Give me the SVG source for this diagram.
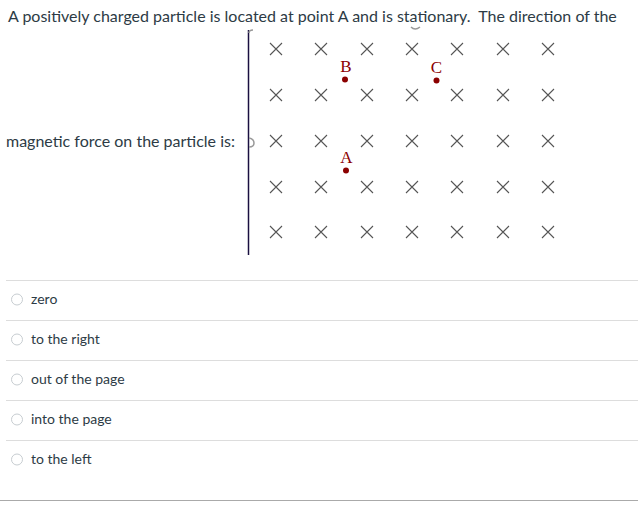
<svg xmlns="http://www.w3.org/2000/svg" width="638" height="506" viewBox="0 0 638 506">
<defs>
<style>
.t{font-family:Lato,"Open Sans",sans-serif;fill:#2d3b45;white-space:pre}
.q{font-size:16px}
.o{font-size:14px}
.x{stroke:#555;stroke-width:1.1;fill:none}
.lbl{font-family:"Liberation Serif","DejaVu Serif",serif;font-size:17px;fill:#8b0000;text-anchor:middle}
.dot{fill:#8b0000}
.sep{stroke:#ddd;stroke-width:1}
.rb{fill:#fff;stroke:#c7cdd1;stroke-width:1}
.art{stroke:#999;stroke-width:1.5;fill:none}
</style>
<path id="cx" d="M-6,-6L6,6M-6,6L6,-6"/>
</defs>
<rect width="638" height="506" fill="#fff"/>
<text class="t q" x="8" y="22" xml:space="preserve">A positively charged particle is located at point A and is stationary.  The direction of the</text>
<text class="t q" x="6" y="147">magnetic force on the particle is:</text>
<g id="figure">
<line x1="248.5" y1="30" x2="248.5" y2="255" stroke="#1a1040" stroke-width="1.5"/>
<path class="art" d="M249,33Q249,30 253,30"/>
<path class="art" d="M411,27Q415,31 420,27"/>
<path class="art" d="M249,138Q254,139 254,143Q254,147 249,147"/>
<g id="field">
<use href="#cx" class="x" x="276" y="49"/><use href="#cx" class="x" x="321" y="49"/><use href="#cx" class="x" x="367" y="49"/><use href="#cx" class="x" x="412" y="49"/><use href="#cx" class="x" x="457" y="49"/><use href="#cx" class="x" x="503" y="49"/><use href="#cx" class="x" x="548" y="49"/>
<use href="#cx" class="x" x="276" y="95"/><use href="#cx" class="x" x="321" y="95"/><use href="#cx" class="x" x="367" y="95"/><use href="#cx" class="x" x="412" y="95"/><use href="#cx" class="x" x="457" y="95"/><use href="#cx" class="x" x="503" y="95"/><use href="#cx" class="x" x="548" y="95"/>
<use href="#cx" class="x" x="276" y="141"/><use href="#cx" class="x" x="321" y="141"/><use href="#cx" class="x" x="367" y="141"/><use href="#cx" class="x" x="412" y="141"/><use href="#cx" class="x" x="457" y="141"/><use href="#cx" class="x" x="503" y="141"/><use href="#cx" class="x" x="548" y="141"/>
<use href="#cx" class="x" x="276" y="187"/><use href="#cx" class="x" x="321" y="187"/><use href="#cx" class="x" x="367" y="187"/><use href="#cx" class="x" x="412" y="187"/><use href="#cx" class="x" x="457" y="187"/><use href="#cx" class="x" x="503" y="187"/><use href="#cx" class="x" x="548" y="187"/>
<use href="#cx" class="x" x="276" y="232"/><use href="#cx" class="x" x="321" y="232"/><use href="#cx" class="x" x="367" y="232"/><use href="#cx" class="x" x="412" y="232"/><use href="#cx" class="x" x="457" y="232"/><use href="#cx" class="x" x="503" y="232"/><use href="#cx" class="x" x="548" y="232"/>
</g>
<g id="pointB"><text class="lbl" x="346" y="72">B</text><circle class="dot" cx="345" cy="79.5" r="3"/></g>
<g id="pointC"><text class="lbl" x="436.5" y="73">C</text><circle class="dot" cx="436.5" cy="80.5" r="3"/></g>
<g id="pointA"><text class="lbl" x="346.5" y="163">A</text><circle class="dot" cx="346" cy="170.5" r="3"/></g>
</g>
<g id="options">
<line class="sep" x1="6" y1="280.5" x2="638" y2="280.5"/>
<g id="opt1"><circle class="rb" cx="17" cy="299.5" r="5.5"/><text class="t o" x="31" y="304">zero</text></g>
<line class="sep" x1="6" y1="320.5" x2="638" y2="320.5"/>
<g id="opt2"><circle class="rb" cx="17" cy="339.5" r="5.5"/><text class="t o" x="31" y="344">to the right</text></g>
<line class="sep" x1="6" y1="360.5" x2="638" y2="360.5"/>
<g id="opt3"><circle class="rb" cx="17" cy="379.5" r="5.5"/><text class="t o" x="31" y="384">out of the page</text></g>
<line class="sep" x1="6" y1="400.5" x2="638" y2="400.5"/>
<g id="opt4"><circle class="rb" cx="17" cy="419.5" r="5.5"/><text class="t o" x="31" y="424">into the page</text></g>
<line class="sep" x1="6" y1="440.5" x2="638" y2="440.5"/>
<g id="opt5"><circle class="rb" cx="17" cy="459.5" r="5.5"/><text class="t o" x="31" y="464">to the left</text></g>
<line x1="0" y1="500.5" x2="638" y2="500.5" stroke="#aaa" stroke-width="1"/>
</g>
</svg>
